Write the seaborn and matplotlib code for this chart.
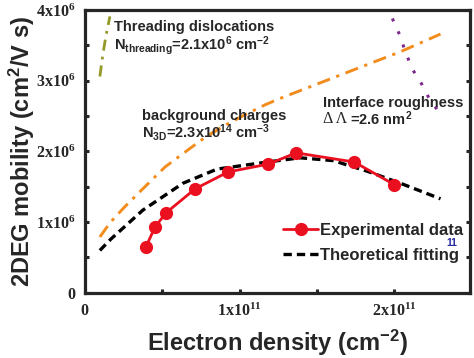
import numpy as np
import pandas as pd
import seaborn as sns
import matplotlib.pyplot as plt
from matplotlib.ticker import FixedLocator

# data (x in 1e11 cm^-2, y in 1e6 cm^2/Vs)
exp_x = [0.395, 0.453, 0.524, 0.712, 0.926, 1.184, 1.366, 1.741, 2.00]
exp_y = [0.65, 0.93, 1.13, 1.47, 1.71, 1.82, 1.98, 1.85, 1.53]

fit_x = [0.097, 0.168, 0.375, 0.634, 0.854, 1.178, 1.392, 1.605, 1.825, 2.039, 2.298]
fit_y = [0.60, 0.76, 1.17, 1.55, 1.75, 1.85, 1.91, 1.87, 1.72, 1.55, 1.33]

bg_x = [0.097, 0.162, 0.259, 0.388, 0.518, 0.647, 0.777, 0.906, 1.036, 1.165, 1.262, 1.650, 2.039, 2.298]
bg_y = [0.79, 0.99, 1.22, 1.50, 1.78, 1.99, 2.20, 2.37, 2.52, 2.66, 2.75, 3.08, 3.41, 3.66]

thr_x = [0.097, 0.115, 0.135, 0.162]
thr_y = [3.06, 3.35, 3.62, 3.91]

rough_x = [1.987, 2.04, 2.07, 2.12, 2.17, 2.22, 2.29]
rough_y = [3.88, 3.62, 3.41, 3.15, 2.98, 2.77, 2.55]

x_ticks = [0, 1, 2]
x_labels = ['0', '1x10$^{11}$', '2x10$^{11}$']
y_ticks = [0, 1, 2, 3, 4]
y_labels = ['0', '1x10$^6$', '2x10$^6$', '3x10$^6$', '4x10$^6$']

sns.set_style('ticks')
plt.rcParams['mathtext.default'] = 'regular'
plt.rcParams['font.family'] = ['Liberation Sans', 'DejaVu Sans']

fig = plt.figure(figsize=(4.74, 3.58), dpi=100)
ax = fig.add_axes([0.179, 0.182, 0.813, 0.790])

sns.lineplot(x=thr_x, y=thr_y, ax=ax, color='#95992a', lw=2.0,
             linestyle=(0, (4.0, 2.2, 1.0, 2.2)), sort=False)
sns.lineplot(x=bg_x, y=bg_y, ax=ax, color='#f28c1c', lw=2.1,
             linestyle=(0, (4.6, 2.3, 1.1, 2.3)), sort=False)
sns.lineplot(x=rough_x, y=rough_y, ax=ax, color='#7b2a8c', lw=2.2,
             linestyle=(0, (1.0, 3.6)), sort=False)
sns.lineplot(x=fit_x, y=fit_y, ax=ax, color='black', lw=2.4,
             linestyle=(0, (2.5, 1.5)), sort=False, label='Theoretical fitting')
sns.lineplot(x=exp_x, y=exp_y, ax=ax, color='#ea1020', lw=2.0, marker='o',
             markersize=9.5, markeredgewidth=0, sort=False, label='Experimental data')

ax.set_xlim(0, 2.49)
ax.set_ylim(0, 4)

ax.xaxis.set_major_locator(FixedLocator(x_ticks))
ax.yaxis.set_major_locator(FixedLocator(y_ticks))
ax.xaxis.set_minor_locator(FixedLocator([0.5, 1.5]))
ax.yaxis.set_minor_locator(FixedLocator([0.5, 1.5, 2.5, 3.5]))
tick_font = dict(family='Liberation Serif', weight='bold', size=11.5)
ax.set_xticklabels(x_labels, fontdict=tick_font)
ax.set_yticklabels(y_labels, fontdict=tick_font)
ax.tick_params(which='both', direction='in', length=3, width=2.2,
               right=True, top=False, pad=7)

for s in ax.spines.values():
    s.set_linewidth(2.3)
    s.set_visible(True)

ax.set_xlabel('Electron density (cm$^{-2}$)', fontsize=17, fontweight='bold')
ax.set_ylabel('2DEG mobility (cm$^2$/V s)', fontsize=17, fontweight='bold')
ax.xaxis.label.set_va('center')
ax.yaxis.label.set_va('center')
ax.xaxis.set_label_coords(0.5, -0.177)
ax.yaxis.set_label_coords(-0.164, 0.5)

txt = dict(fontsize=10.5, fontweight='bold', transform=ax.transAxes, va='center')
ax.text(0.075, 0.940, 'Threading dislocations', **txt)
ax.text(0.075, 0.874, 'N$_{threading}$=2.1x10$^6$ cm$^{-2}$', **txt)
ax.text(0.148, 0.627, 'background charges', **txt)
ax.text(0.148, 0.566, 'N$_{3D}$=2.3x10$^{14}$ cm$^{-3}$', **txt)
ax.text(0.618, 0.671, 'Interface roughness', **txt)
ax.text(0.618, 0.615, '\u0394 \u039b', fontsize=11.5, family='Liberation Serif',
        transform=ax.transAxes, va='center')
ax.text(0.688, 0.615, '=2.6 nm$^2$', **txt)

h, l = ax.get_legend_handles_labels()
ax.legend(h[::-1], l[::-1], loc='upper left', bbox_to_anchor=(0.498, 0.272),
          frameon=False, prop=dict(weight='bold', size=12), handlelength=2.1,
          handletextpad=0.12, labelspacing=0.6, borderaxespad=0)
ax.text(0.937, 0.175, '11', fontsize=7.5, fontweight='bold', color='#2a2aa0',
        transform=ax.transAxes, va='center')

fig.savefig('out.png', dpi=100)
